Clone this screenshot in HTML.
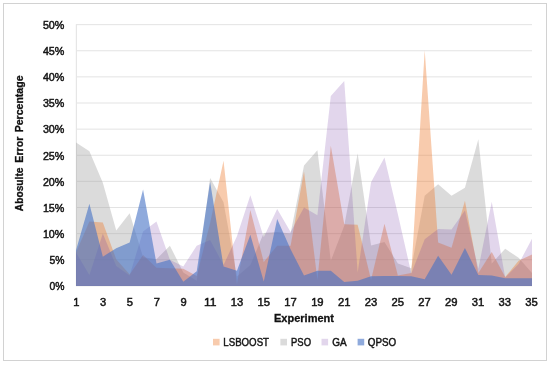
<!DOCTYPE html>
<html><head><meta charset="utf-8"><title>Absolute Error Percentage</title>
<style>
html,body{margin:0;padding:0;background:#fff;}
body{width:550px;height:366px;overflow:hidden;}
svg{display:block;}
text{font-family:"Liberation Sans",sans-serif;fill:#151515;stroke:#151515;stroke-width:0.5px;}
.t{font-size:11.5px;}
.b{font-size:11px;font-weight:bold;fill:#101010;stroke:#101010;stroke-width:0.3px;}
</style></head><body>
<svg width="550" height="366" viewBox="0 0 550 366">
<rect x="0" y="0" width="550" height="366" fill="#fff"/>
<rect x="3.5" y="3.5" width="543" height="357" fill="#fff" stroke="#d2d2d2" stroke-width="1"/>

<line x1="76.0" y1="285.85" x2="532.0" y2="285.85" stroke="#e3e3e3" stroke-width="1"/>
<line x1="76.0" y1="259.73" x2="532.0" y2="259.73" stroke="#e3e3e3" stroke-width="1"/>
<line x1="76.0" y1="233.61" x2="532.0" y2="233.61" stroke="#e3e3e3" stroke-width="1"/>
<line x1="76.0" y1="207.49" x2="532.0" y2="207.49" stroke="#e3e3e3" stroke-width="1"/>
<line x1="76.0" y1="181.37" x2="532.0" y2="181.37" stroke="#e3e3e3" stroke-width="1"/>
<line x1="76.0" y1="155.25" x2="532.0" y2="155.25" stroke="#e3e3e3" stroke-width="1"/>
<line x1="76.0" y1="129.13" x2="532.0" y2="129.13" stroke="#e3e3e3" stroke-width="1"/>
<line x1="76.0" y1="103.01" x2="532.0" y2="103.01" stroke="#e3e3e3" stroke-width="1"/>
<line x1="76.0" y1="76.89" x2="532.0" y2="76.89" stroke="#e3e3e3" stroke-width="1"/>
<line x1="76.0" y1="50.77" x2="532.0" y2="50.77" stroke="#e3e3e3" stroke-width="1"/>
<line x1="76.0" y1="24.65" x2="532.0" y2="24.65" stroke="#e3e3e3" stroke-width="1"/>
<line x1="76.4" y1="24.2" x2="76.4" y2="286.0" stroke="#e6e6e6" stroke-width="1.2"/>
<polygon points="76.00,286.00 76.00,142.42 89.41,151.33 102.82,182.77 116.24,230.46 129.65,213.16 143.06,257.18 156.47,259.28 169.88,245.65 183.29,272.38 196.71,280.76 210.12,178.06 223.53,202.16 236.94,276.57 250.35,265.04 263.76,233.08 277.18,232.03 290.59,233.60 304.00,165.48 317.41,150.28 330.82,260.85 344.24,225.74 357.65,153.43 371.06,245.39 384.47,241.98 397.88,263.47 411.29,268.18 424.71,195.87 438.12,184.34 451.53,195.87 464.94,187.75 478.35,139.28 491.76,263.47 505.18,248.80 518.59,257.70 532.00,272.90 532.00,286.00" fill="rgba(165,165,165,0.40)"/>
<polygon points="76.00,286.00 76.00,252.46 89.41,221.55 102.82,222.60 116.24,259.28 129.65,274.47 143.06,255.08 156.47,267.66 169.88,268.18 183.29,268.71 196.71,276.04 210.12,223.12 223.53,160.76 236.94,283.90 250.35,210.02 263.76,261.90 277.18,245.65 290.59,245.65 304.00,171.24 317.41,279.71 330.82,145.83 344.24,224.17 357.65,224.69 371.06,279.71 384.47,223.64 397.88,275.52 411.29,272.90 424.71,50.20 438.12,242.51 451.53,247.75 464.94,200.85 478.35,272.90 491.76,251.94 505.18,277.09 518.59,260.85 532.00,254.56 532.00,286.00" fill="rgba(237,125,49,0.40)"/>
<polygon points="76.00,286.00 76.00,252.46 89.41,275.00 102.82,233.60 116.24,266.09 129.65,275.52 143.06,231.50 156.47,221.55 169.88,259.80 183.29,266.61 196.71,245.65 210.12,239.89 223.53,265.04 236.94,236.22 250.35,195.35 263.76,237.27 277.18,208.97 290.59,232.03 304.00,207.40 317.41,215.26 330.82,96.05 344.24,81.12 357.65,272.38 371.06,182.25 384.47,157.62 397.88,214.21 411.29,273.42 424.71,239.36 438.12,228.88 451.53,229.41 464.94,210.54 478.35,268.71 491.76,201.64 505.18,277.62 518.59,263.99 532.00,238.84 532.00,286.00" fill="rgba(112,48,160,0.20)"/>
<polygon points="76.00,286.00 76.00,250.37 89.41,203.73 102.82,256.66 116.24,248.27 129.65,242.51 143.06,189.58 156.47,263.47 169.88,259.80 183.29,281.81 196.71,271.33 210.12,181.72 223.53,266.61 236.94,270.80 250.35,234.65 263.76,281.55 277.18,218.93 290.59,249.32 304.00,275.52 317.41,270.80 330.82,270.80 344.24,282.07 357.65,280.76 371.06,276.31 384.47,276.04 397.88,276.04 411.29,276.31 424.71,279.19 438.12,255.87 451.53,274.73 464.94,248.01 478.35,275.00 491.76,275.52 505.18,278.14 518.59,278.14 532.00,278.14 532.00,286.00" fill="rgba(68,114,196,0.60)"/>
<text class="t" x="64.4" y="290.15" text-anchor="end" textLength="15.0" lengthAdjust="spacingAndGlyphs">0%</text>
<text class="t" x="64.4" y="264.02" text-anchor="end" textLength="15.0" lengthAdjust="spacingAndGlyphs">5%</text>
<text class="t" x="64.4" y="237.89" text-anchor="end" textLength="21.5" lengthAdjust="spacingAndGlyphs">10%</text>
<text class="t" x="64.4" y="211.76" text-anchor="end" textLength="21.5" lengthAdjust="spacingAndGlyphs">15%</text>
<text class="t" x="64.4" y="185.63" text-anchor="end" textLength="21.5" lengthAdjust="spacingAndGlyphs">20%</text>
<text class="t" x="64.4" y="159.50" text-anchor="end" textLength="21.5" lengthAdjust="spacingAndGlyphs">25%</text>
<text class="t" x="64.4" y="133.37" text-anchor="end" textLength="21.5" lengthAdjust="spacingAndGlyphs">30%</text>
<text class="t" x="64.4" y="107.24" text-anchor="end" textLength="21.5" lengthAdjust="spacingAndGlyphs">35%</text>
<text class="t" x="64.4" y="81.11" text-anchor="end" textLength="21.5" lengthAdjust="spacingAndGlyphs">40%</text>
<text class="t" x="64.4" y="54.98" text-anchor="end" textLength="21.5" lengthAdjust="spacingAndGlyphs">45%</text>
<text class="t" x="64.4" y="28.85" text-anchor="end" textLength="21.5" lengthAdjust="spacingAndGlyphs">50%</text>
<text class="t" x="76.40" y="306" text-anchor="middle" textLength="6.2" lengthAdjust="spacingAndGlyphs">1</text>
<text class="t" x="103.18" y="306" text-anchor="middle" textLength="6.2" lengthAdjust="spacingAndGlyphs">3</text>
<text class="t" x="129.95" y="306" text-anchor="middle" textLength="6.2" lengthAdjust="spacingAndGlyphs">5</text>
<text class="t" x="156.73" y="306" text-anchor="middle" textLength="6.2" lengthAdjust="spacingAndGlyphs">7</text>
<text class="t" x="183.50" y="306" text-anchor="middle" textLength="6.2" lengthAdjust="spacingAndGlyphs">9</text>
<text class="t" x="210.28" y="306" text-anchor="middle" textLength="12.5" lengthAdjust="spacingAndGlyphs">11</text>
<text class="t" x="237.06" y="306" text-anchor="middle" textLength="12.5" lengthAdjust="spacingAndGlyphs">13</text>
<text class="t" x="263.83" y="306" text-anchor="middle" textLength="12.5" lengthAdjust="spacingAndGlyphs">15</text>
<text class="t" x="290.61" y="306" text-anchor="middle" textLength="12.5" lengthAdjust="spacingAndGlyphs">17</text>
<text class="t" x="317.38" y="306" text-anchor="middle" textLength="12.5" lengthAdjust="spacingAndGlyphs">19</text>
<text class="t" x="344.16" y="306" text-anchor="middle" textLength="12.5" lengthAdjust="spacingAndGlyphs">21</text>
<text class="t" x="370.94" y="306" text-anchor="middle" textLength="12.5" lengthAdjust="spacingAndGlyphs">23</text>
<text class="t" x="397.71" y="306" text-anchor="middle" textLength="12.5" lengthAdjust="spacingAndGlyphs">25</text>
<text class="t" x="424.49" y="306" text-anchor="middle" textLength="12.5" lengthAdjust="spacingAndGlyphs">27</text>
<text class="t" x="451.26" y="306" text-anchor="middle" textLength="12.5" lengthAdjust="spacingAndGlyphs">29</text>
<text class="t" x="478.04" y="306" text-anchor="middle" textLength="12.5" lengthAdjust="spacingAndGlyphs">31</text>
<text class="t" x="504.82" y="306" text-anchor="middle" textLength="12.5" lengthAdjust="spacingAndGlyphs">33</text>
<text class="t" x="531.59" y="306" text-anchor="middle" textLength="12.5" lengthAdjust="spacingAndGlyphs">35</text>
<text class="b" x="274" y="322.3" textLength="60" lengthAdjust="spacingAndGlyphs">Experiment</text>
<g transform="translate(22.5,211.2) rotate(-90)"><text class="b" x="0" y="0" textLength="43.7" lengthAdjust="spacingAndGlyphs">Abosulte</text><text class="b" x="48.5" y="0" textLength="26" lengthAdjust="spacingAndGlyphs">Error</text><text class="b" x="78.9" y="0" textLength="56.8" lengthAdjust="spacingAndGlyphs">Percentage</text></g>
<rect x="213.0" y="338.8" width="6.6" height="6.6" fill="rgba(237,125,49,0.40)"/>
<text class="t" style="font-size:11.8px" x="223.3" y="346.1" textLength="45.7" lengthAdjust="spacingAndGlyphs">LSBOOST</text>
<rect x="280.4" y="338.8" width="6.6" height="6.6" fill="rgba(165,165,165,0.40)"/>
<text class="t" style="font-size:11.8px" x="291.0" y="346.1" textLength="20.0" lengthAdjust="spacingAndGlyphs">PSO</text>
<rect x="321.5" y="338.8" width="6.6" height="6.6" fill="rgba(112,48,160,0.20)"/>
<text class="t" style="font-size:11.8px" x="332.2" y="346.1" textLength="14.4" lengthAdjust="spacingAndGlyphs">GA</text>
<rect x="357.6" y="338.8" width="6.6" height="6.6" fill="rgba(68,114,196,0.60)"/>
<text class="t" style="font-size:11.8px" x="367.8" y="346.1" textLength="28.4" lengthAdjust="spacingAndGlyphs">QPSO</text>
</svg></body></html>
